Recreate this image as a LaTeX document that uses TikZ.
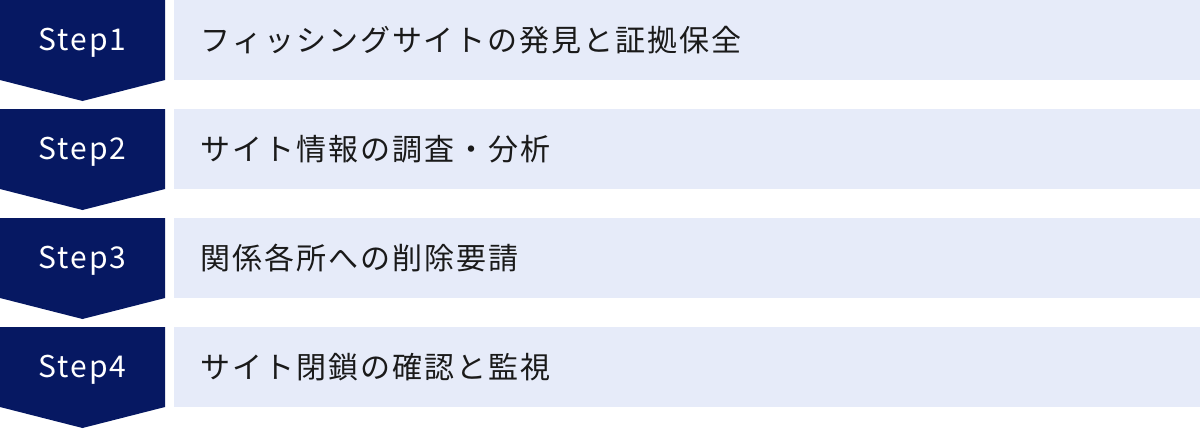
\documentclass[tikz,border=0pt]{standalone}
\usepackage{fontspec}
\setmainfont{Noto Sans CJK JP}[LetterSpace=6.5]
\usepackage{tikz}
\usetikzlibrary{positioning}
\definecolor{stepnavy}{RGB}{6,24,98}
\definecolor{itemblue}{RGB}{230,235,249}
\definecolor{itemtext}{RGB}{26,26,26}
\tikzset{%
  every step/.style={
    fill=stepnavy,
    draw=none
  },
  step label/.style={
    text=white,
    inner sep=0pt,
    font=\fontsize{22.5pt}{27pt}\selectfont
  },
  item box/.style={
    fill=itemblue,
    draw=none,
    anchor=north west,
    minimum width=769.5pt,
    minimum height=60pt,
    inner sep=0pt
  },
  item label/.style={
    text=itemtext,
    anchor=west,
    inner sep=0pt,
    font=\fontsize{22.5pt}{27pt}\selectfont
  },
}

\begin{document}
\begin{tikzpicture}[x=0.75pt, y=-0.75pt]

  \useasboundingbox (0,0) rectangle (1200,429);

  % Step arrows and item boxes
  \foreach \t [count=\i] in {フィッシングサイトの発見と証拠保全,
                             サイト情報の調査・分析,
                             関係各所への削除要請,
                             サイト閉鎖の確認と監視}
  {
    \pgfmathsetmacro{\top}{(\i-1)*109}
    \fill [every step/.try] (0,\top) -- ++(165,0) -- ++(0,80)
      -- ++(-82.5,21) -- ++(-82.5,-21) -- cycle;
    \node [step label] (step-\i) at (82.5,\top+43) {Step\i};
    \node [item box] (item-\i) at (174,\top) {};
    \node [item label] (text-\i) at ([xshift=20pt]item-\i.west) {\t};
  }

\end{tikzpicture}
\end{document}
